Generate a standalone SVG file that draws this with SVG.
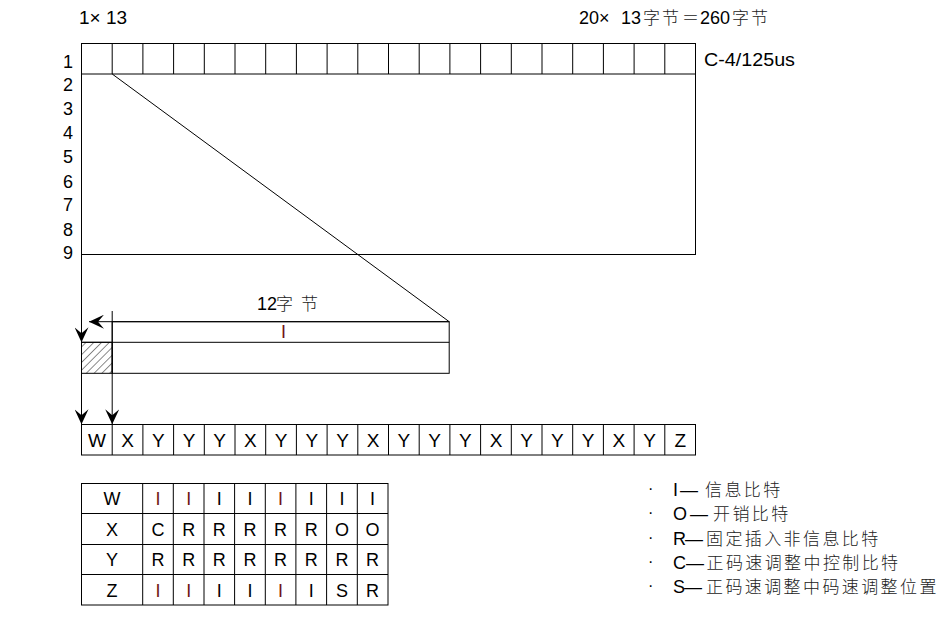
<svg xmlns="http://www.w3.org/2000/svg" width="939" height="622" viewBox="0 0 939 622">
<style>
  .ln{stroke:#000;stroke-width:1;fill:none}
  .lat{font-family:"Liberation Sans",Arial,sans-serif;fill:#000}
  .cjk{font-family:"Noto Sans CJK SC","Liberation Sans",sans-serif;fill:#222;font-weight:300}
  .lbl{font-size:18px;text-anchor:middle}
  .cell{font-size:19px;text-anchor:middle}
  .tcell{font-size:18px;text-anchor:middle}
  .red{fill:#6e1414}
</style>
<defs>
  <marker id="arr" viewBox="0 0 15 14" refX="15" refY="7" markerWidth="15" markerHeight="14" markerUnits="userSpaceOnUse" orient="auto">
    <path d="M0,0 L15,7 L0,14 L6,7 Z" fill="#000"/>
  </marker>
  <pattern id="hatch" patternUnits="userSpaceOnUse" width="5.5" height="5.5" patternTransform="rotate(45)">
    <line x1="0" y1="0" x2="0" y2="5.5" stroke="#000" stroke-width="0.9"/>
  </pattern>
</defs>
<rect width="939" height="622" fill="#fff"/>

<g id="top-labels">
  <text class="lat" x="79" y="24" font-size="19">1× 13</text>
  <text class="lat" x="579" y="24" font-size="18">20×</text>
  <text class="lat" x="621" y="24" font-size="18">13</text>
  <text class="cjk" y="24" font-size="17" x="643 662">字节</text>
  <text class="cjk" y="24" font-size="17" x="682">＝</text>
  <text class="lat" x="700" y="24" font-size="18">260</text>
  <text class="cjk" y="24" font-size="17" x="732 751">字节</text>
  <text class="lat" x="704" y="65.5" font-size="18" textLength="91" lengthAdjust="spacingAndGlyphs">C-4/125us</text>
</g>

<g id="row-numbers" class="lat lbl">
  <text x="68" y="67.5">1</text>
  <text x="68" y="91">2</text>
  <text x="68" y="115">3</text>
  <text x="68" y="139">4</text>
  <text x="68" y="163">5</text>
  <text x="68" y="187.5">6</text>
  <text x="68" y="211">7</text>
  <text x="68" y="236">8</text>
  <text x="68" y="259">9</text>
</g>

<g id="frame-c4">
  <rect class="ln" x="81.5" y="43.5" width="614" height="211"/>
  <line class="ln" x1="81.5" y1="74" x2="695.5" y2="74"/>
  <path class="ln" d="M112.2,43.5V74 M142.9,43.5V74 M173.6,43.5V74 M204.3,43.5V74 M235,43.5V74 M265.7,43.5V74 M296.4,43.5V74 M327.1,43.5V74 M357.8,43.5V74 M388.5,43.5V74 M419.2,43.5V74 M449.9,43.5V74 M480.6,43.5V74 M511.3,43.5V74 M542,43.5V74 M572.7,43.5V74 M603.4,43.5V74 M634.1,43.5V74 M664.8,43.5V74"/>
</g>

<g id="byte-block">
  <rect class="ln" x="112.2" y="321.7" width="337" height="51.6"/>
  <rect x="81.5" y="342.3" width="30.7" height="31" fill="url(#hatch)" stroke="#000" stroke-width="1"/>
  <line class="ln" x1="81.5" y1="342.3" x2="449.2" y2="342.3"/>
  <text class="cjk" y="310" font-size="17" x="276 301">字节</text>
  <text class="lat" x="257" y="310" font-size="18">12</text>
  <text class="lat red" x="283.5" y="338" font-size="18" text-anchor="middle">I</text>
</g>

<g id="connectors">
  <line class="ln" x1="112.2" y1="74" x2="449.2" y2="321.7"/>
  <line class="ln" x1="449.2" y1="321.7" x2="89" y2="321.7" marker-end="url(#arr)"/>
  <line class="ln" x1="81.5" y1="254.5" x2="81.5" y2="342.3" marker-end="url(#arr)"/>
  <line class="ln" x1="81.5" y1="342.3" x2="81.5" y2="424.3" marker-end="url(#arr)"/>
  <line class="ln" x1="112.2" y1="311" x2="112.2" y2="424.3" marker-end="url(#arr)"/>
</g>

<g id="column-row">
  <rect class="ln" x="81.5" y="424.5" width="614" height="30.5"/>
  <path class="ln" d="M112.2,424.5V455 M142.9,424.5V455 M173.6,424.5V455 M204.3,424.5V455 M235,424.5V455 M265.7,424.5V455 M296.4,424.5V455 M327.1,424.5V455 M357.8,424.5V455 M388.5,424.5V455 M419.2,424.5V455 M449.9,424.5V455 M480.6,424.5V455 M511.3,424.5V455 M542,424.5V455 M572.7,424.5V455 M603.4,424.5V455 M634.1,424.5V455 M664.8,424.5V455"/>
  <g class="lat cell">
    <text x="96.9" y="446.5">W</text>
    <text x="127.6" y="446.5">X</text>
    <text x="158.3" y="446.5">Y</text>
    <text x="189" y="446.5">Y</text>
    <text x="219.7" y="446.5">Y</text>
    <text x="250.4" y="446.5">X</text>
    <text x="281.1" y="446.5">Y</text>
    <text x="311.8" y="446.5">Y</text>
    <text x="342.5" y="446.5">Y</text>
    <text x="373.2" y="446.5">X</text>
    <text x="403.9" y="446.5">Y</text>
    <text x="434.6" y="446.5">Y</text>
    <text x="465.3" y="446.5">Y</text>
    <text x="496" y="446.5">X</text>
    <text x="526.7" y="446.5">Y</text>
    <text x="557.4" y="446.5">Y</text>
    <text x="588.1" y="446.5">Y</text>
    <text x="618.8" y="446.5">X</text>
    <text x="649.5" y="446.5">Y</text>
    <text x="680.2" y="446.5">Z</text>
  </g>
</g>

<g id="bit-table">
  <rect class="ln" x="81.5" y="483.5" width="306.5" height="121.5"/>
  <path class="ln" d="M81.5,513.5H388 M81.5,544.5H388 M81.5,574.5H388"/>
  <path class="ln" d="M142.7,483.5V605 M173.3,483.5V605 M204,483.5V605 M234.6,483.5V605 M265.3,483.5V605 M295.9,483.5V605 M326.6,483.5V605 M357.3,483.5V605"/>
  <g class="lat tcell">
    <text x="112.1" y="505">W</text>
    <text x="112.1" y="535.5">X</text>
    <text x="112.1" y="566">Y</text>
    <text x="112.1" y="596.5">Z</text>

    <text class="red" x="158" y="505">I</text>
    <text class="red" x="188.7" y="505">I</text>
    <text x="219.3" y="505">I</text>
    <text x="250" y="505">I</text>
    <text class="red" x="280.6" y="505">I</text>
    <text x="311.3" y="505">I</text>
    <text x="342" y="505">I</text>
    <text x="372.6" y="505">I</text>

    <text x="158" y="535.5">C</text>
    <text x="188.7" y="535.5">R</text>
    <text x="219.3" y="535.5">R</text>
    <text x="250" y="535.5">R</text>
    <text x="280.6" y="535.5">R</text>
    <text x="311.3" y="535.5">R</text>
    <text x="342" y="535.5">O</text>
    <text x="372.6" y="535.5">O</text>

    <text x="158" y="566">R</text>
    <text x="188.7" y="566">R</text>
    <text x="219.3" y="566">R</text>
    <text x="250" y="566">R</text>
    <text x="280.6" y="566">R</text>
    <text x="311.3" y="566">R</text>
    <text x="342" y="566">R</text>
    <text x="372.6" y="566">R</text>

    <text class="red" x="158" y="596.5">I</text>
    <text class="red" x="188.7" y="596.5">I</text>
    <text x="219.3" y="596.5">I</text>
    <text x="250" y="596.5">I</text>
    <text class="red" x="280.6" y="596.5">I</text>
    <text x="311.3" y="596.5">I</text>
    <text x="342" y="596.5">S</text>
    <text x="372.6" y="596.5">R</text>
  </g>
</g>

<g id="legend">
  <g class="lat" font-size="16">
    <text x="648" y="494">·</text>
    <text x="648" y="518">·</text>
    <text x="648" y="543">·</text>
    <text x="648" y="567">·</text>
    <text x="648" y="591">·</text>
  </g>
  <g class="lat" font-size="18">
    <text x="673" y="496">I</text>
    <text x="673" y="520">O</text>
    <text x="673" y="545">R</text>
    <text x="673" y="569">C</text>
    <text x="673" y="593">S</text>
    <text x="680" y="496">—</text>
    <text x="690" y="520">—</text>
    <text x="685" y="545">—</text>
    <text x="686" y="569">—</text>
    <text x="684" y="593">—</text>
  </g>
  <g class="cjk" font-size="17" letter-spacing="2.4">
    <text x="705" y="496">信息比特</text>
    <text x="713" y="520">开销比特</text>
    <text x="706" y="545">固定插入非信息比特</text>
    <text x="706.5" y="569">正码速调整中控制比特</text>
    <text x="706" y="593">正码速调整中码速调整位置</text>
  </g>
</g>
</svg>
